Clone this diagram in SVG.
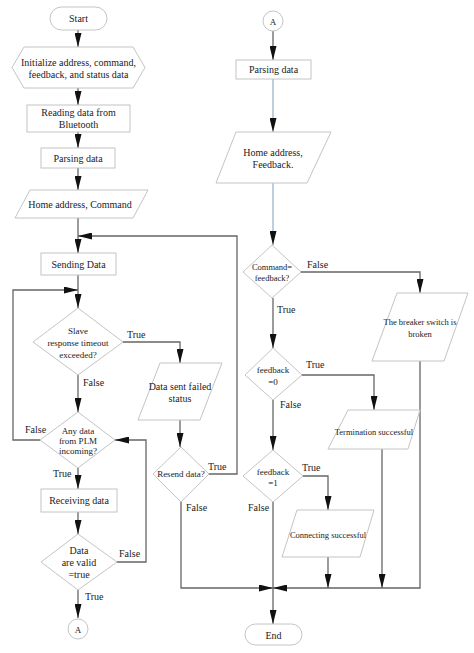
<svg xmlns="http://www.w3.org/2000/svg" width="474" height="653" viewBox="0 0 474 653">
<defs>
<marker id="ah" markerUnits="userSpaceOnUse" markerWidth="14" markerHeight="7" refX="14" refY="3.5" orient="auto">
<path d="M0,0 L14,3.5 L0,7 z" fill="#111"/>
</marker>
</defs>
<style>
.n{fill:#fff;stroke:#c4c4c4;stroke-width:1}
.t{font-family:"Liberation Serif","Times New Roman",serif;font-size:10px;fill:#222;text-anchor:middle}
.s{font-size:9px}
.xs{font-size:8.5px}
.l{font-family:"Liberation Serif","Times New Roman",serif;font-size:10px;fill:#222}
.c{fill:none;stroke:#666;stroke-width:1.3}
.b{fill:none;stroke:#9fb3c8;stroke-width:1.3}
.a{marker-end:url(#ah)}
</style>
<rect width="474" height="653" fill="#fff"/>

<g id="connectors">
<path class="c a" d="M78,30 V47"/>
<path class="c a" d="M78,88 V105"/>
<path class="c a" d="M78,132 V148"/>
<path class="c a" d="M78,168 V190"/>
<path class="c a" d="M78,218 V253"/>
<path class="c a" d="M209,474 H237 V236 H78"/>
<path class="c a" d="M78,275 V308"/>
<path class="c a" d="M40,440 H13 V290 H78"/>
<path class="c a" d="M123,342 H180 V363"/>
<path class="c a" d="M78,375 V412"/>
<path class="c a" d="M78,468 V489"/>
<path class="c a" d="M78,512 V534"/>
<path class="c a" d="M117,562 H146 V440 H115"/>
<path class="c a" d="M78,590 V618"/>
<path class="c a" d="M180,420 V447"/>
<path class="c a" d="M181,502 V588 H273"/>
<path class="c a" d="M273,31 V60"/>
<path class="b a" d="M273,79 V132"/>
<path class="b a" d="M273,183 V245"/>
<path class="c a" d="M301,272 H420 V293"/>
<path class="c a" d="M273,298 V348"/>
<path class="c a" d="M302,375 H374 V410"/>
<path class="c a" d="M273,400 V450"/>
<path class="c a" d="M303,476 H328 V510"/>
<path class="c a" d="M273,502 V624"/>
<path class="c a" d="M328,557 V588"/>
<path class="c a" d="M382,449 V588"/>
<path class="c a" d="M420,361 V588 H273"/>
<text class="l" x="127" y="338">True</text>
<text class="l" x="83" y="386">False</text>
<text class="l" x="25" y="433">False</text>
<text class="l" x="53" y="477">True</text>
<text class="l" x="119" y="557">False</text>
<text class="l" x="85" y="600">True</text>
<text class="l" x="208" y="470">True</text>
<text class="l" x="186" y="511">False</text>
<text class="l" x="307" y="268">False</text>
<text class="l" x="277" y="313">True</text>
<text class="l" x="306" y="368">True</text>
<text class="l" x="280" y="408">False</text>
<text class="l" x="302" y="471">True</text>
<text class="l" x="248" y="511">False</text>
</g>

<g id="start"><rect class="n" x="50" y="7" width="57" height="23" rx="11.5"/><text class="t" x="78.5" y="22">Start</text></g>
<g id="init"><polygon class="n" points="12,67.5 24,47 133,47 145,67.5 133,88 24,88"/><text class="t" x="78.5" y="66">Initialize address, command,</text><text class="t" x="78.5" y="78">feedback, and status data</text></g>
<g id="read"><rect class="n" x="27" y="105" width="103" height="27"/><text class="t" x="78.5" y="116">Reading data from</text><text class="t" x="78.5" y="128">Bluetooth</text></g>
<g id="parse1"><rect class="n" x="41" y="148" width="74" height="20"/><text class="t" x="78" y="161.5">Parsing data</text></g>
<g id="homecmd"><polygon class="n" points="30,190 148,190 133,218 15,218"/><text class="t" x="80" y="208">Home address, Command</text></g>
<g id="send"><rect class="n" x="41" y="253" width="75" height="22"/><text class="t" x="78.5" y="267.5">Sending Data</text></g>
<g id="slave"><polygon class="n" points="78,308 123,342 78,375 33,342"/><text class="t s" x="78" y="334">Slave</text><text class="t s" x="78" y="346">response timeout</text><text class="t s" x="78" y="358">exceeded?</text></g>
<g id="anydata"><polygon class="n" points="78,412 115,440 78,468 40,440"/><text class="t s" x="78" y="434">Any data</text><text class="t s" x="78" y="444">from PLM</text><text class="t s" x="78" y="454">incoming?</text></g>
<g id="recv"><rect class="n" x="41" y="489" width="76" height="23"/><text class="t" x="79" y="504">Receiving data</text></g>
<g id="valid"><polygon class="n" points="78,534 117,562 78,590 41,562"/><text class="t" x="79" y="554">Data</text><text class="t" x="79" y="566">are valid</text><text class="t" x="79" y="578">=true</text></g>
<g id="a1"><circle class="n" cx="78" cy="629" r="10"/><text class="t s" x="78" y="632.5">A</text></g>
<g id="failed"><polygon class="n" points="160,363 222,363 200,420 138,420"/><text class="t" x="180" y="390">Data sent failed</text><text class="t" x="180" y="402">status</text></g>
<g id="resend"><polygon class="n" points="181,447 209,474 181,502 153,474"/><text class="t s" x="181" y="477">Resend data?</text></g>

<g id="a2"><circle class="n" cx="273" cy="21" r="10"/><text class="t s" x="273" y="24.5">A</text></g>
<g id="parse2"><rect class="n" x="236" y="60" width="75" height="19"/><text class="t" x="273.5" y="73">Parsing data</text></g>
<g id="homefb"><polygon class="n" points="236,132 331,132 307,183 216,183"/><text class="t" x="273" y="156">Home address,</text><text class="t" x="273" y="168">Feedback.</text></g>
<g id="cmdfb"><polygon class="n" points="272,245 301,272 272,298 243,272"/><text class="t xs" x="272" y="270">Command=</text><text class="t xs" x="272" y="281">feedback?</text></g>
<g id="breaker"><polygon class="n" points="397,293 468,293 444,361 372,361"/><text class="t xs" x="420" y="325">The breaker switch is</text><text class="t xs" x="420" y="337">broken</text></g>
<g id="fb0"><polygon class="n" points="273,348 302,375 273,400 245,375"/><text class="t s" x="273" y="373">feedback</text><text class="t s" x="273" y="385">=0</text></g>
<g id="term"><polygon class="n" points="348,410 420,410 408,449 328,449"/><text class="t xs" x="374" y="435">Termination successful</text></g>
<g id="fb1"><polygon class="n" points="273,450 303,476 273,502 243,476"/><text class="t s" x="273" y="475">feedback</text><text class="t s" x="273" y="486">=1</text></g>
<g id="connect"><polygon class="n" points="297,510 374,510 360,557 282,557"/><text class="t xs" x="328" y="538">Connecting successful</text></g>
<g id="end"><rect class="n" x="245" y="624" width="57" height="21" rx="10.5"/><text class="t" x="273.5" y="638.5">End</text></g>
</svg>
